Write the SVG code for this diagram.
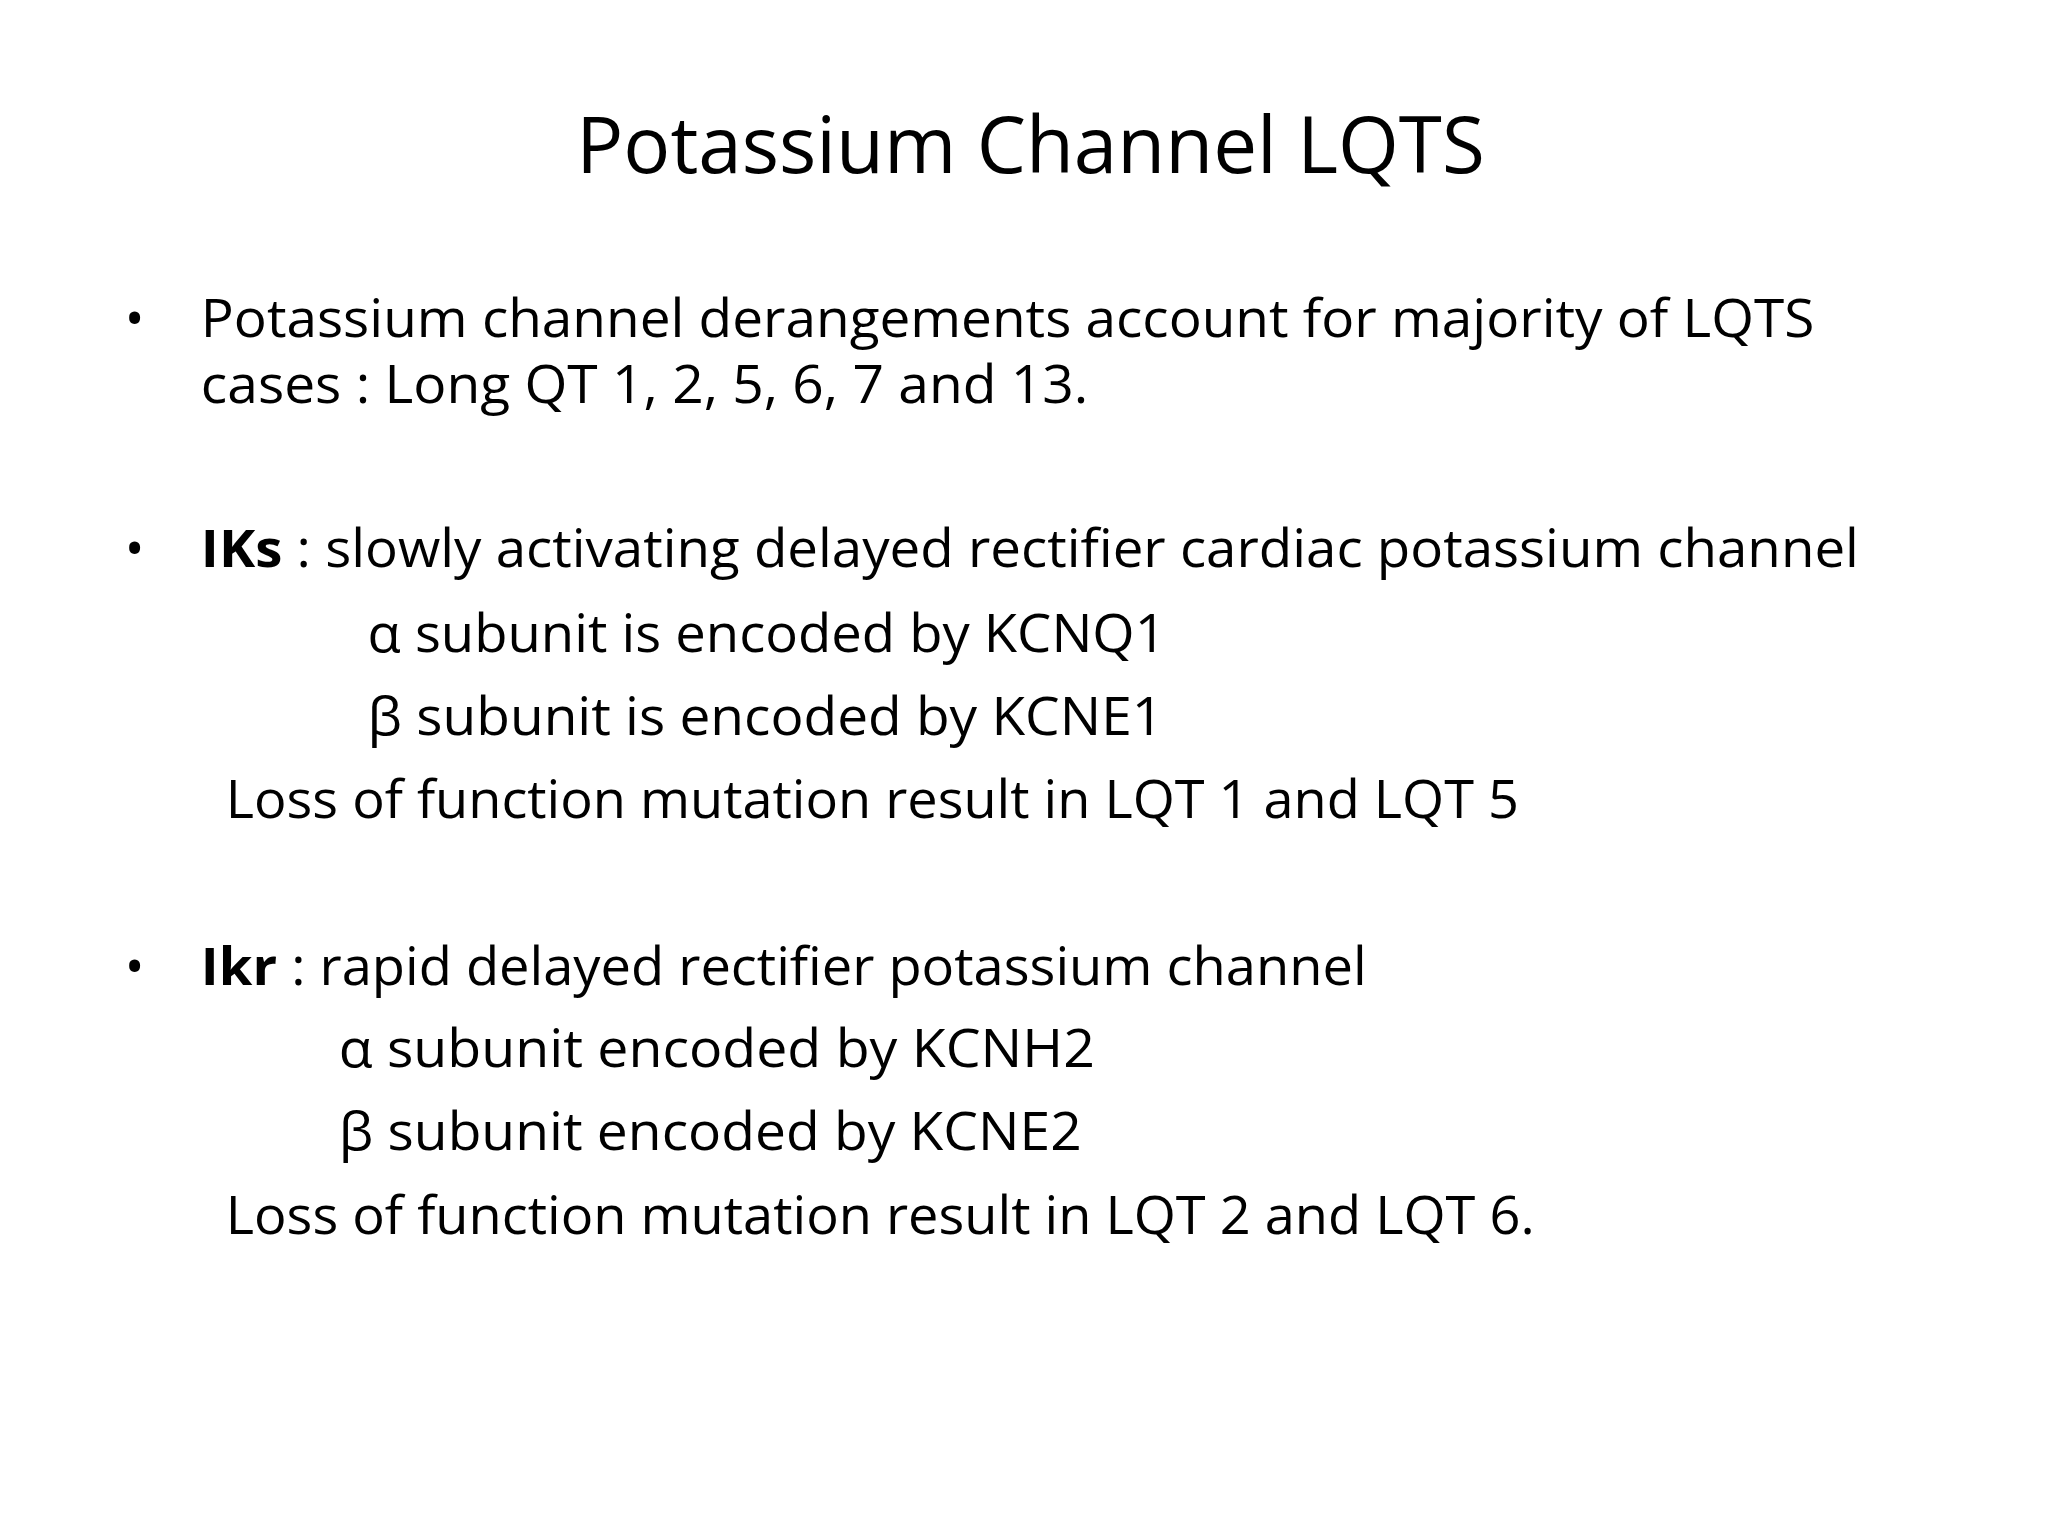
<svg xmlns="http://www.w3.org/2000/svg" width="2048" height="1536" viewBox="0 0 2048 1536">
<style>
text{font-family:"Open Sans","Noto Sans",sans-serif;fill:#000;font-size:40px}
.t{font-size:60px}
</style>
<rect width="2048" height="1536" fill="#fff"/>
<g transform="scale(1.3128)">
<g id="title"><text class="t" x="785" y="132" text-anchor="middle" textLength="692" lengthAdjust="spacingAndGlyphs">Potassium Channel LQTS</text></g>
<g id="b1">
<text x="95" y="257">•</text>
<text x="153" y="257" textLength="1229" lengthAdjust="spacingAndGlyphs">Potassium channel derangements account for  majority of LQTS</text>
<text x="153" y="307" textLength="676" lengthAdjust="spacingAndGlyphs">cases : Long QT 1, 2, 5, 6, 7 and 13.</text>
</g>
<g id="b2">
<text x="95" y="432">•</text>
<text x="153" y="432" textLength="1263" lengthAdjust="spacingAndGlyphs"><tspan font-weight="bold">IKs</tspan> : slowly activating delayed rectifier cardiac potassium channel</text>
<text x="280" y="497" textLength="608" lengthAdjust="spacingAndGlyphs">α subunit is encoded by KCNQ1</text>
<text x="280" y="560" textLength="606" lengthAdjust="spacingAndGlyphs">β subunit  is encoded by KCNE1</text>
<text x="172" y="623" textLength="985" lengthAdjust="spacingAndGlyphs">Loss of function mutation result in LQT 1 and LQT 5</text>
</g>
<g id="b3">
<text x="95" y="750">•</text>
<text x="153" y="750" textLength="888" lengthAdjust="spacingAndGlyphs"><tspan font-weight="bold">Ikr</tspan> : rapid delayed rectifier potassium channel</text>
<text x="258" y="813" textLength="576" lengthAdjust="spacingAndGlyphs">α subunit  encoded by KCNH2</text>
<text x="258" y="876" textLength="566" lengthAdjust="spacingAndGlyphs">β subunit  encoded by KCNE2</text>
<text x="172" y="940" textLength="997" lengthAdjust="spacingAndGlyphs">Loss of function mutation result in LQT 2 and LQT 6.</text>
</g>
</g>
</svg>
